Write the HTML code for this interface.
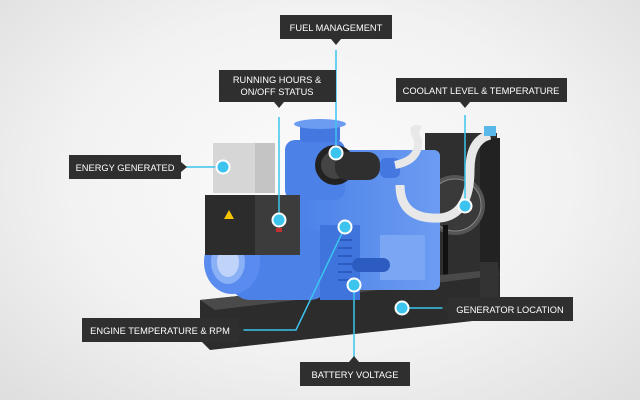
<!DOCTYPE html>
<html><head><meta charset="utf-8"><style>
html,body{margin:0;padding:0}
body{width:640px;height:400px;overflow:hidden;background:radial-gradient(ellipse at 50% 45%,#fbfbfb 0%,#f2f2f2 55%,#dedede 100%);font-family:"Liberation Sans",sans-serif}
svg{position:absolute;left:0;top:0}
.l{fill:#fff;font-size:9.3px;font-family:"Liberation Sans",sans-serif}
</style></head><body>
<svg width="640" height="400" viewBox="0 0 640 400">
<defs>
<linearGradient id="bl" x1="0" y1="0" x2="1" y2="0"><stop offset="0" stop-color="#4c82e8"/><stop offset="1" stop-color="#6c9cf2"/></linearGradient>
</defs>
<!-- radiator -->
<rect x="425" y="133" width="72" height="160" fill="#2f2f2f"/>
<rect x="480" y="138" width="20" height="150" fill="#222"/>
<circle cx="455" cy="205" r="30" fill="#555"/>
<circle cx="455" cy="205" r="26" fill="#3a3a3a" stroke="#888" stroke-width="1"/>
<rect x="443" y="225" width="5" height="55" fill="#111"/>
<!-- frame -->
<polygon points="200,300 490,270 500,268 500,318 210,350 200,340" fill="#2c2c2c"/>
<polygon points="200,300 490,270 500,275 215,310" fill="#4a4a4a"/>
<rect x="480" y="262" width="18" height="50" fill="#333"/>
<!-- engine body -->
<rect x="300" y="150" width="140" height="140" rx="6" fill="url(#bl)"/>
<rect x="285" y="140" width="60" height="60" rx="10" fill="#4c82e8"/>
<rect x="300" y="122" width="40" height="20" rx="3" fill="#4478e0"/>
<ellipse cx="320" cy="124" rx="26" ry="5" fill="#6c9cf2"/>
<rect x="380" y="235" width="45" height="45" fill="#7aa6f4"/>
<!-- fuel intake -->
<circle cx="335" cy="165" r="20" fill="#222"/>
<circle cx="335" cy="165" r="14" fill="#444"/>
<rect x="335" y="152" width="45" height="28" rx="12" fill="#2f2f2f"/>
<rect x="380" y="158" width="20" height="20" rx="6" fill="#4478e0"/>
<!-- pipes -->
<path d="M395 165 Q420 160 418 140 Q410 125 420 130" stroke="#e8e8e8" stroke-width="8" fill="none"/>
<path d="M400 185 Q400 220 440 218 Q470 215 470 170 Q470 140 490 135" stroke="#e8e8e8" stroke-width="9" fill="none"/>
<rect x="484" y="126" width="12" height="10" fill="#5ab8e8"/>
<!-- alternator -->
<rect x="230" y="230" width="100" height="70" rx="20" fill="#4c82e8"/>
<rect x="320" y="225" width="40" height="75" fill="#3f74dc"/>
<g stroke="#2c5cc0" stroke-width="2"><line x1="338" y1="240" x2="352" y2="240"/><line x1="338" y1="248" x2="352" y2="248"/><line x1="338" y1="256" x2="352" y2="256"/><line x1="338" y1="264" x2="352" y2="264"/><line x1="338" y1="272" x2="352" y2="272"/><line x1="338" y1="280" x2="352" y2="280"/></g>
<ellipse cx="232" cy="262" rx="28" ry="32" fill="#5a8cf0"/>
<ellipse cx="228" cy="262" rx="17" ry="22" fill="#8ab0f5"/>
<ellipse cx="228" cy="262" rx="11" ry="15" fill="#c0d4fa"/>
<rect x="352" y="258" width="38" height="14" rx="7" fill="#2c5cc0"/>
<!-- control box -->
<rect x="205" y="195" width="95" height="60" fill="#2c2c2c"/>
<rect x="255" y="195" width="45" height="60" fill="#3c3c3c"/>
<polygon points="229,210 234,219 224,219" fill="#f5c400"/>
<rect x="276" y="228" width="6" height="4" fill="#c03030"/>
<!-- gray box -->
<rect x="213" y="143" width="42" height="50" fill="#d6d6d6"/>
<rect x="255" y="143" width="20" height="50" fill="#c4c4c4"/>
<!-- connectors -->
<g stroke="#3cc4ee" stroke-width="1.5" fill="none">
<line x1="336" y1="50" x2="336" y2="150"/>
<line x1="279" y1="117" x2="279" y2="218"/>
<line x1="465" y1="115" x2="465" y2="204"/>
<line x1="181" y1="167" x2="220" y2="167"/>
<polyline points="238,330 296,330 344,229"/>
<line x1="402" y1="308" x2="445" y2="308"/>
<line x1="354" y1="287" x2="354" y2="362"/>
</g>
<g fill="#3cc4ee" stroke="#fff" stroke-width="2">
<circle cx="336" cy="153" r="6.5"/><circle cx="279" cy="220" r="6.5"/><circle cx="465" cy="206" r="6.5"/>
<circle cx="223" cy="167" r="6.5"/><circle cx="345" cy="227" r="6.5"/><circle cx="402" cy="308" r="6.5"/><circle cx="354" cy="285" r="6.5"/>
</g>
<!-- labels -->
<g fill="#2f2f2f">
<rect x="280" y="15" width="112" height="24"/><polygon points="331,39 341,39 336,45"/>
<rect x="219" y="70" width="117" height="32"/><polygon points="274,102 284,102 279,108"/>
<rect x="396" y="78" width="171" height="24"/><polygon points="460,102 470,102 465,108"/>
<rect x="69" y="155" width="112" height="24"/><polygon points="181,162 181,172 187,167"/>
<rect x="82" y="318" width="156" height="24"/><polygon points="238,325 238,335 244,330"/>
<rect x="448" y="297" width="125" height="24"/><polygon points="448,303 448,313 442,308"/>
<rect x="300" y="362" width="110" height="24"/><polygon points="349,362 359,362 354,356"/>
</g>
<g class="l" text-anchor="middle">
<text x="336" y="31">FUEL MANAGEMENT</text>
<text x="277" y="83">RUNNING HOURS &amp;</text>
<text x="277" y="95">ON/OFF STATUS</text>
<text x="481" y="94">COOLANT LEVEL &amp; TEMPERATURE</text>
<text x="125" y="171">ENERGY GENERATED</text>
<text x="160" y="334">ENGINE TEMPERATURE &amp; RPM</text>
<text x="510" y="313">GENERATOR LOCATION</text>
<text x="355" y="378">BATTERY VOLTAGE</text>
</g>
</svg>
</body></html>
